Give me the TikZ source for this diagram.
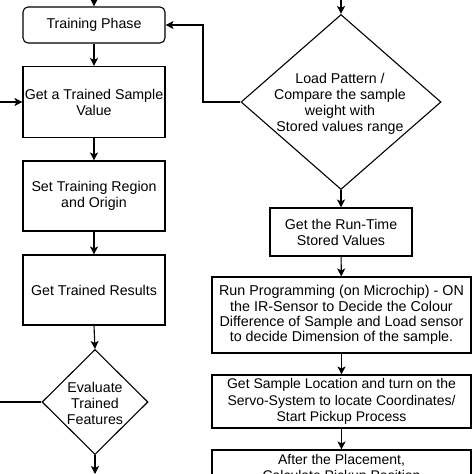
\documentclass[tikz,border=0pt]{standalone}
\usepackage{fontspec}
\setmainfont{Liberation Sans}
\usetikzlibrary{shapes.geometric,arrows.meta}
\begin{document}
\begin{tikzpicture}[x=1pt,y=-1pt,
  every node/.style={font=\fontsize{14.2}{16}\selectfont, align=center, inner sep=0pt},
  procbox/.style={draw, line width=1.1pt, rectangle},
  roundbox/.style={draw, line width=1.1pt, rectangle, rounded corners=5pt},
  decision/.style={draw, line width=1.1pt, diamond},
  conn/.style={line width=1.1pt, -{Stealth[length=8pt,width=8pt,inset=2pt]}},
  plainconn/.style={line width=1.1pt}
]
\useasboundingbox (0,0) rectangle (474,474);
\clip (0,0) rectangle (474,474);
\fill[white] (0,0) rectangle (474,474);

% left column
\node[roundbox, minimum width=142, minimum height=36] (tp) at (94,25) {Training Phase};
\node[procbox, minimum width=142, minimum height=71] (gts) at (94,102) {Get a Trained Sample\\Value};
\node[procbox, minimum width=142, minimum height=70] (str) at (94,196) {Set Training Region\\and Origin};
\node[procbox, minimum width=142, minimum height=70] (gtr) at (94,290) {Get Trained Results};
\node[decision, minimum width=106, minimum height=105] (ev) at (95,402) {};
\node (evt) at (95,403) {Evaluate\\Trained\\Features};

% right column
\node[decision, minimum width=200, minimum height=175] (lp) at (341,102) {};
\node (lpt) at (340,103.5) {Load Pattern /\\Compare the sample\\weight with\\Stored values range};
\node[procbox, minimum width=142, minimum height=48] (rt) at (341,232) {Get the Run-Time\\Stored Values};
\node[procbox, minimum width=259, minimum height=76, font=\fontsize{14.3}{15.2}\selectfont] (rp) at (341.5,315) {Run Programming (on Microchip) - ON\\the IR-Sensor to Decide the Colour\\Difference of Sample and Load sensor\\to decide Dimension of the sample.};
\node[procbox, minimum width=259, minimum height=53, font=\fontsize{14.0}{16.5}\selectfont] (gs) at (341.5,401.5) {Get Sample Location and turn on the\\Servo-System to locate Coordinates/\\Start Pickup Process};
\node[procbox, minimum width=259, minimum height=38, font=\fontsize{14.0}{16}\selectfont] (ap) at (341.5,469) {After the Placement,\\Calculate Pickup Position};

% free ends
\coordinate (topL) at (94,0);
\coordinate (topR) at (341,0);
\coordinate (inL) at (0,102);
\coordinate (inE) at (0,402);
\coordinate (outE) at (95,474);
\coordinate (bend) at (203,102);

% connectors
\draw[conn] (topL) -- (tp.north);
\draw[conn] (tp) -- (gts);
\draw[conn] (gts) -- (str);
\draw[conn] (str) -- (gtr);
\draw[conn] (gtr.south) -- (ev.north);
\draw[conn] (ev.south) -- (outE);
\draw[conn] (inL) -- (gts.west);
\draw[plainconn] (inE) -- (ev.west);
\draw[conn] (lp.west) -- (bend) |- (tp.east);
\draw[conn] (topR) -- (lp.north);
\draw[conn] (lp.south) -- (rt.north);
\draw[conn] (rt) -- (rp);
\draw[conn] (rp) -- (gs);
\draw[conn] (gs) -- (ap);
\end{tikzpicture}
\end{document}
